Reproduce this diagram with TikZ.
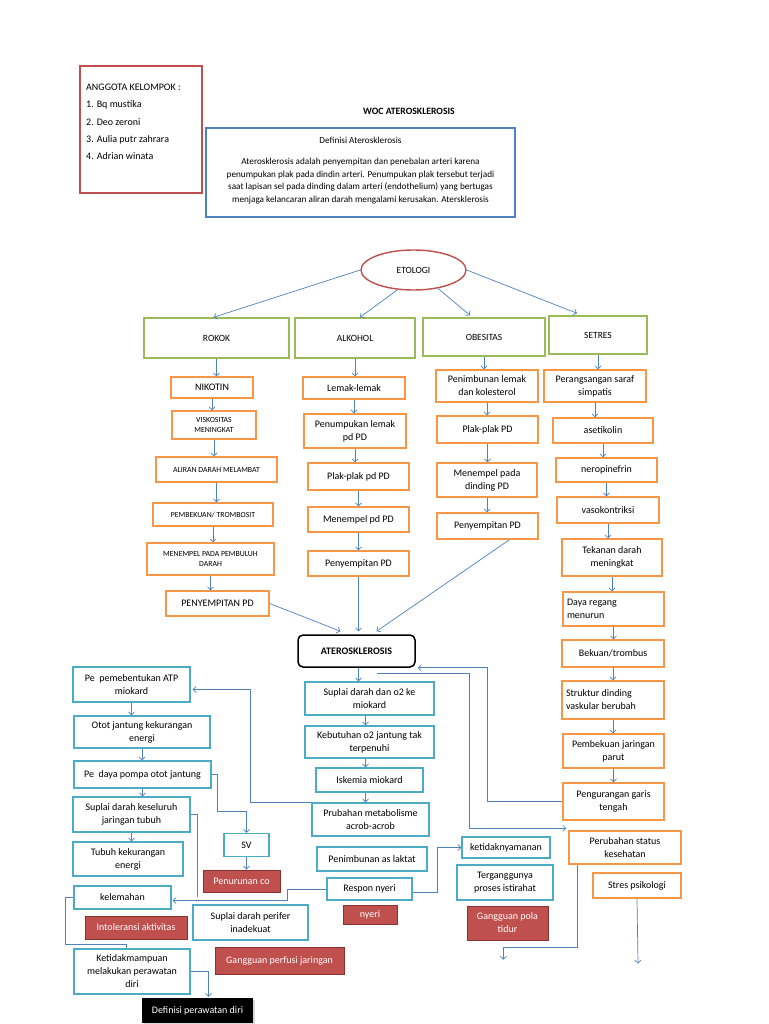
\documentclass[tikz,border=0pt]{standalone}
\usepackage{fontspec}
\setmainfont{Carlito}
\usetikzlibrary{shapes.geometric,arrows.meta,calc,shadows}

\definecolor{linkblue}{RGB}{79,129,189}
\definecolor{leafgreen}{RGB}{155,187,89}
\definecolor{boxorange}{RGB}{247,150,70}
\definecolor{boxcyan}{RGB}{75,172,198}
\definecolor{boxred}{RGB}{192,80,77}
\definecolor{darkred}{RGB}{140,50,48}
\definecolor{boxblue}{RGB}{79,129,189}

\tikzset{
    base/.style={rectangle, inner sep=2pt, align=center,
        font=\fontsize{10}{13}\selectfont},
    greenbox/.style={base, draw=leafgreen, line width=1.4pt,
        font=\fontsize{9.5}{12}\selectfont},
    orangebox/.style={base, draw=boxorange, line width=1.4pt},
    cyanbox/.style={base, draw=boxcyan, line width=1.4pt},
    diagbox/.style={base, fill=boxred, draw=darkred, line width=0.8pt, text=white},
    smallcaps/.style={font=\fontsize{7.8}{10}\selectfont},
    link/.style={draw=linkblue, line width=0.7pt},
    arr/.style={link, -{Straight Barb[length=3pt,width=6pt]}},
}

\begin{document}
\begin{tikzpicture}[x=1pt,y=-1pt]
    % Page frame
    \fill[white] (0,0) rectangle (768,1024);
    \useasboundingbox (0,0) rectangle (768,1024);

    % Header: group members, title and definition
    \node[draw=boxred, line width=1.4pt, minimum width=122, minimum height=127]
        (anggota) at (141,129.5) {};
    \node[anchor=north west, align=left, inner sep=0pt,
        font=\fontsize{10}{17.2}\selectfont] (members) at (86,84)
        {ANGGOTA KELOMPOK :\\1. Bq mustika\\2. Deo zeroni\\3. Aulia putr zahrara\\4. Adrian winata};
    \node[font=\bfseries\fontsize{9.7}{11}\selectfont] (title) at (409,111) {WOC ATEROSKLEROSIS};
    \draw[boxblue, line width=1.2pt] (206,128) rectangle (515,217);
    \node[minimum width=309, minimum height=89,
        align=center, font=\fontsize{9.2}{12.7}\selectfont] (definisi) at (360.5,170.5)
        {Definisi Aterosklerosis\\[8.3pt]
         Aterosklerosis adalah penyempitan dan penebalan arteri karena\\
         penumpukan plak pada dindin arteri. Penumpukan plak tersebut terjadi\\
         saat lapisan sel pada dinding dalam arteri (endothelium) yang bertugas\\
         menjaga kelancaran aliran darah mengalami kerusakan. Atersklerosis};

    % Etiology and its four causes
    \node[ellipse, draw=boxred, line width=1.4pt, minimum width=105, minimum height=40,
        font=\fontsize{9.5}{11}\selectfont] (etologi) at (413.5,270) {ETOLOGI};
    \node[greenbox, minimum width=145, minimum height=40] (rokok) at (216.5,338) {ROKOK};
    \node[greenbox, minimum width=120, minimum height=40] (alkohol) at (355,338) {ALKOHOL};
    \node[greenbox, minimum width=122, minimum height=38] (obesitas) at (484,337) {OBESITAS};
    \node[greenbox, minimum width=98, minimum height=38] (setres) at (598,335) {SETRES};
    \draw[arr] (etologi.west) -- ($(rokok.north)+(-3,0)$);
    \draw[arr] (etologi.231) -- ($(alkohol.north)+(5,0)$);
    \draw[arr] (etologi.323) -- ($(obesitas.north)+(-14,-2)$);
    \draw[arr] (etologi.east) -- ($(setres.north)+(-21,-2)$);

    % Rokok chain
    \node[orangebox, minimum width=82, minimum height=21] (nikotin) at (212,387.5) {NIKOTIN};
    \node[orangebox, smallcaps, minimum width=84, minimum height=28] (viskositas) at (214,425) {VISKOSITAS\\MENINGKAT};
    \node[orangebox, smallcaps, minimum width=121, minimum height=25] (aliran) at (216.5,469.5) {ALIRAN DARAH MELAMBAT};
    \node[orangebox, smallcaps, minimum width=120, minimum height=23] (trombosit) at (213,514.5) {PEMBEKUAN/ TROMBOSIT};
    \node[orangebox, smallcaps, minimum width=127, minimum height=32] (pembuluh) at (210.5,559) {MENEMPEL PADA PEMBULUH\\DARAH};
    \node[orangebox, minimum width=103, minimum height=25] (sempitrokok) at (217.5,603.5) {PENYEMPITAN PD};

    % Alkohol chain
    \node[orangebox, minimum width=102, minimum height=22] (lemak) at (354,388) {Lemak-lemak};
    \node[orangebox, minimum width=102, minimum height=34] (tumpuk) at (355,431) {Penumpukan lemak\\pd PD};
    \node[orangebox, minimum width=101, minimum height=27] (plakalk) at (358.5,476.5) {Plak-plak pd PD};
    \node[orangebox, minimum width=101, minimum height=25] (tempelalk) at (358.5,519.5) {Menempel pd PD};
    \node[orangebox, minimum width=101, minimum height=25] (sempitalk) at (358.5,563.5) {Penyempitan PD};

    % Obesitas chain
    \node[orangebox, minimum width=102, minimum height=32] (timbun) at (487,386) {Penimbunan lemak\\dan kolesterol};
    \node[orangebox, minimum width=101, minimum height=27] (plakob) at (487.5,429.5) {Plak-plak PD};
    \node[orangebox, minimum width=100, minimum height=34] (tempelob) at (487,480) {Menempel pada\\dinding PD};
    \node[orangebox, minimum width=101, minimum height=26] (sempitob) at (487.5,526) {Penyempitan PD};

    % Setres chain
    \node[orangebox, minimum width=102, minimum height=32] (saraf) at (595,386) {Perangsangan saraf\\simpatis};
    \node[orangebox, minimum width=100, minimum height=25] (asetikolin) at (603,430.5) {asetikolin};
    \node[orangebox, minimum width=101, minimum height=24] (nero) at (606.5,470) {neropinefrin};
    \node[orangebox, minimum width=102, minimum height=26] (vaso) at (608,510) {vasokontriksi};
    \node[orangebox, minimum width=100, minimum height=37] (tekanan) at (612,557.5) {Tekanan darah\\meningkat};
    \node[orangebox, align=flush left, text width=93, inner sep=4pt, minimum height=34] (regang) at (613.5,609) {Daya regang\\menurun};
    \node[orangebox, minimum width=102, minimum height=27] (bekuan) at (613,653.5) {Bekuan/trombus};
    \node[orangebox, align=flush left, text width=94, inner sep=4pt, minimum height=38] (struktur) at (613,700) {Struktur dinding\\vaskular berubah};
    \node[orangebox, minimum width=101, minimum height=34] (parut) at (613.5,751) {Pembekuan jaringan\\parut};
    \node[orangebox, minimum width=101, minimum height=37] (garis) at (613.5,801.5) {Pengurangan garis\\tengah};

    % Vertical arrows down each chain
    \foreach \a/\b in {rokok/nikotin, nikotin/viskositas, viskositas/aliran,
        aliran/trombosit, trombosit/pembuluh, pembuluh/sempitrokok,
        alkohol/lemak, lemak/tumpuk, tumpuk/plakalk, plakalk/tempelalk, tempelalk/sempitalk,
        obesitas/timbun, timbun/plakob, plakob/tempelob, tempelob/sempitob,
        setres/saraf, saraf/asetikolin, asetikolin/nero, nero/vaso, vaso/tekanan,
        tekanan/regang, regang/bekuan, bekuan/struktur, struktur/parut, parut/garis}
        \draw[arr] (\a.south) -- (\a.south |- \b.north);

    % Central disease node
    \node[draw=black, line width=1.5pt, rounded corners=5pt, minimum width=117, minimum height=32,
        font=\bfseries\fontsize{10}{12}\selectfont] (athero) at (356.5,651) {ATEROSKLEROSIS};
    \draw[arr] (sempitrokok.east) -- ($(athero.north)+(-16,-3)$);
    \draw[arr] (sempitalk.south) -- ($(sempitalk.south |- athero.north)+(0,-3)$);
    \draw[arr] ($(sempitob.south)+(22,0)$) -- ($(athero.north)+(20,-3)$);

    % Central cardiac chain
    \node[cyanbox, minimum width=129, minimum height=33] (suplai) at (369.5,698.5) {Suplai darah dan o2 ke\\miokard};
    \node[cyanbox, minimum width=129, minimum height=32] (kebutuhan) at (369.5,742) {Kebutuhan o2 jantung tak\\terpenuhi};
    \node[cyanbox, minimum width=107, minimum height=24] (iskemia) at (369.5,780) {Iskemia miokard};
    \node[cyanbox, minimum width=117, minimum height=33] (metabol) at (370.5,819.5) {Prubahan metabolisme\\acrob-acrob};
    \node[cyanbox, minimum width=110, minimum height=24] (laktat) at (372,859) {Penimbunan as laktat};
    \node[cyanbox, minimum width=85, minimum height=22] (nyerires) at (369.5,889) {Respon nyeri};
    \node[diagbox, minimum width=54, minimum height=19] (nyeri) at (370,914.5) {nyeri};
    \draw[arr] ($(athero.south)+(2,0)$) -- ($(athero.south |- suplai.north)+(2,0)$);
    \foreach \a/\b in {suplai/kebutuhan, kebutuhan/iskemia, iskemia/metabol}
        \draw[arr] ($(\a.south)+(-4,0)$) -- ($(\a.south |- \b.north)+(-4,0)$);

    % Left cardiac chain
    \node[cyanbox, minimum width=117, minimum height=35] (atp) at (131.5,684.5) {Pe\ \ pemebentukan ATP\\miokard};
    \node[cyanbox, minimum width=136, minimum height=32] (otot) at (142,732) {Otot jantung kekurangan\\energi};
    \node[cyanbox, minimum width=137, minimum height=27] (pompa) at (142.5,774.5) {Pe\ \ daya pompa otot jantung};
    \node[cyanbox, minimum width=117, minimum height=35] (keseluruh) at (131.5,814.5) {Suplai darah keseluruh\\jaringan tubuh};
    \node[cyanbox, minimum width=110, minimum height=34] (energi) at (128,859) {Tubuh kekurangan\\energi};
    \node[cyanbox, minimum width=97, minimum height=23] (lemah) at (122.5,897.5) {kelemahan};
    \node[diagbox, minimum width=102, minimum height=23] (intoleransi) at (136,927.5) {Intoleransi aktivitas};
    \node[cyanbox, minimum width=116, minimum height=45] (mandiri) at (132,971.5) {Ketidakmampuan\\melakukan perawatan\\diri};
    \node[base, fill=black, text=white, minimum width=111, minimum height=25,
        drop shadow={shadow xshift=1.5pt, shadow yshift=-1.5pt, fill=black!30}] (rawat) at (197.5,1010.5) {Definisi perawatan diri};
    \node[cyanbox, minimum width=45, minimum height=23] (sv) at (246.5,845) {SV};
    \node[diagbox, minimum width=77, minimum height=22,
        drop shadow={shadow xshift=1.2pt, shadow yshift=-1.2pt, fill=black!25}] (co) at (241.5,881) {Penurunan co};
    \node[cyanbox, minimum width=115, minimum height=35] (perifer) at (250.5,922.5) {Suplai darah perifer\\inadekuat};
    \node[diagbox, minimum width=129, minimum height=27] (perfusi) at (279.5,960.5) {Gangguan perfusi jaringan};
    \foreach \a/\b in {atp/otot, otot/pompa, pompa/keseluruh, keseluruh/energi}
        \draw[arr] (\a.south) -- (\a.south |- \b.north);
    \draw[arr] (sv.south) -- (sv.south |- co.north);

    % Right lower nodes
    \node[cyanbox, minimum width=88, minimum height=21] (nyaman) at (506,847.5) {ketidaknyamanan};
    \node[cyanbox, minimum width=96, minimum height=35] (istirahat) at (505,882.5) {Terganggunya\\proses istirahat};
    \node[diagbox, minimum width=81, minimum height=34] (tidur) at (507.5,923) {Gangguan pola\\tidur};
    \node[orangebox, minimum width=112, minimum height=33] (status) at (625,847.5) {Perubahan status\\kesehatan};
    \node[orangebox, minimum width=88, minimum height=25] (psiko) at (637,885.5) {Stres psikologi};

    % Elbow connectors
    \draw[arr] (metabol.north west) -- ++(-61,0) |- ($(atp.east)+(2,5)$);
    \draw[arr] (pompa.east) -- ++(6,0) -- ++(0,37) -| (sv.north);
    \draw[link] (keseluruh.east) -- ++(7,0) -- ++(0,82);
    \draw[arr] (nyerires.west) -- ++(-39,0) |- ($(lemah.east)+(1,3)$);
    \draw[arr] ($(nyerires.east)+(0,3)$) -- ++(25,0) |- (nyaman.west);
    \draw[link] (lemah.west) -- ++(-8,0) -- ++(0,47) -| ($(mandiri.north)+(-6,0)$);
    \draw[arr] (mandiri.east) -| ($(rawat.north)+(11,-1)$);
    \draw[arr] (garis.west) -- ++(-75,0) |- ($(athero.south east)+(2,0)$);
    \draw[arr] ($(athero.south)+(20,6)$) -- ++(93,0) |- ($(status.north west)+(-2,-2)$);
    \draw[arr] ($(status.south west)+(9,0)$) -- ++(0,83) -| ++(-74,12);
    \draw[arr] (psiko.south) -- ++(1,65);
\end{tikzpicture}
\end{document}
